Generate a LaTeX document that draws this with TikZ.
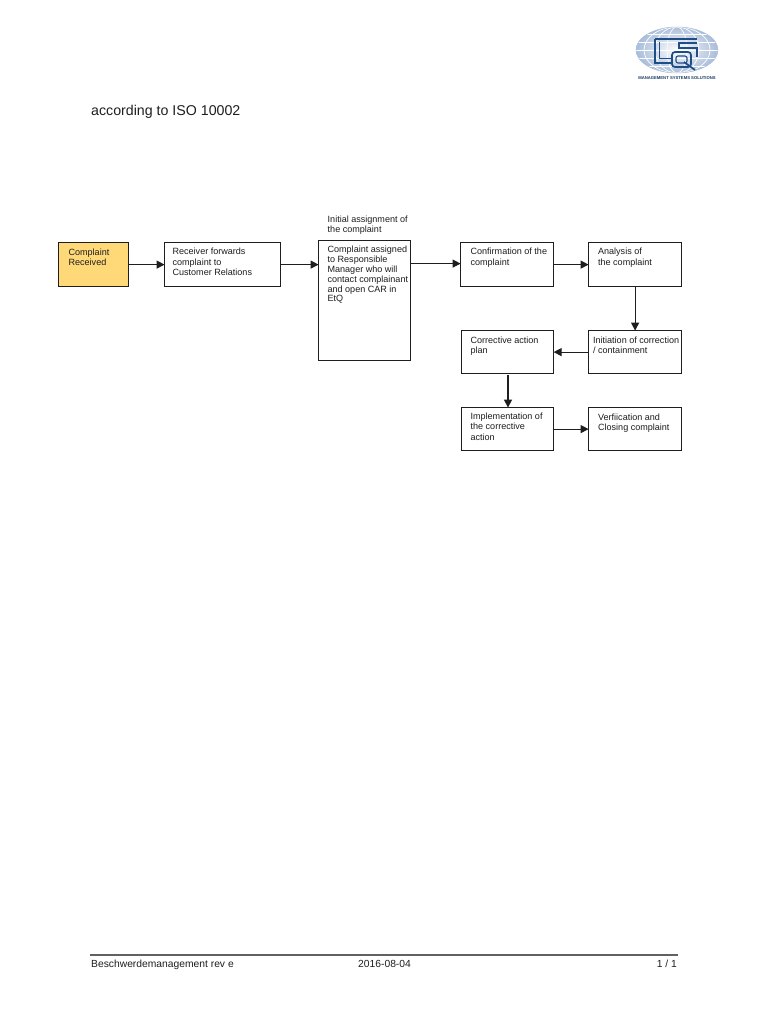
\documentclass[tikz,border=0pt]{standalone}
\usepackage{fontspec}
\setmainfont{Liberation Sans}
\usetikzlibrary{arrows.meta}
\definecolor{ink}{HTML}{1E1E1E}
\definecolor{navy}{HTML}{1F4E86}
\definecolor{globe}{HTML}{A9BDDA}
\definecolor{amber}{HTML}{FFD878}
\newcommand{\flowtext}[5]{\parbox[b][#2pt][t]{#1pt}{\fontsize{9.05}{10.3}\selectfont\leftskip=#3pt\relax\rightskip=0pt plus 1fil\parindent=0pt\rule{0pt}{#4pt}#5\par}}
\tikzset{
  x=1pt,y=-1pt,
  flowbox/.style={draw=ink,line width=0.9pt,fill=white,inner sep=0pt,outer sep=0pt,anchor=north west,align=left,text=ink},
  startbox/.style={flowbox,fill=amber},
  flow/.style={draw=ink,line width=1.2pt,-{Triangle[length=8pt,width=8pt]}},
  plain/.style={inner sep=0pt,anchor=base west,text=ink},
  logoline/.style={draw=navy,line width=1.7pt,line join=miter},
}
\begin{document}
\begin{tikzpicture}
\useasboundingbox (0,0) rectangle (768,1024);
% logo
\begin{scope}
  \clip (677,50) ellipse [x radius=41,y radius=23];
  \shade[inner color=white,outer color=globe] (677,50) ellipse [x radius=41,y radius=23];
  \foreach \r in {10,22,33}{\draw[white,line width=.7pt] (677,50) ellipse [x radius=\r,y radius=23];}
  \foreach \yy in {34,42,50,58,66}{\draw[white,line width=.7pt] (636,\yy) -- (718,\yy);}
\end{scope}
\draw[globe,line width=.5pt] (677,50) ellipse [x radius=41,y radius=23];
\draw[logoline] (655,39) -- (655,63) -- (671,63);
\draw[logoline] (659.5,42) -- (659.5,58.5) -- (671,58.5);
\draw[logoline] (655,39) -- (697,39);
\draw[logoline] (697,43) -- (679,43) -- (679,48) -- (697,48) -- (697,57);
\draw[logoline,rounded corners=3pt] (672,52) -- (691,52) -- (691,67) -- (672,67) -- cycle;
\draw[logoline,line width=1.1pt,rounded corners=2pt] (676,56) -- (687,56) -- (687,63) -- (676,63) -- cycle;
\draw[logoline] (684,62) -- (695,70);
\node[inner sep=0pt,text=navy!75!black] (logotext) at (677,78.3) {\fontsize{4.2}{5}\selectfont\bfseries MANAGEMENT SYSTEMS SOLUTIONS};
% title
\node[plain] (title) at (91,116) {\fontsize{14.2}{17}\selectfont according to ISO 10002};
\node[plain] (caption) at (327.5,222.7) {\fontsize{9.05}{10.3}\selectfont Initial assignment of};
\node[plain] (caption2) at (327.5,233) {\fontsize{9.05}{10.3}\selectfont the complaint};
% boxes
\node[startbox] (rec) at (58.6,242.6) {\flowtext{70}{44}{10}{12.5}{Complaint\\Received}};
\node[flowbox] (fwd) at (164.6,242.6) {\flowtext{116}{44}{8}{12.2}{Receiver forwards\\complaint to\\Customer Relations}};
\node[flowbox] (asg) at (318.6,240.6) {\flowtext{92}{120}{9}{12.2}{\baselineskip=9.8pt Complaint assigned\\to Responsible\\Manager who will\\contact complainant\\and open CAR in\\EtQ}};
\node[flowbox] (conf) at (460.6,242.6) {\flowtext{93}{44}{10}{12.3}{Confirmation of the\\complaint}};
\node[flowbox] (ana) at (588.6,242.6) {\flowtext{93}{44}{9.5}{12.3}{Analysis of\\the complaint}};
\node[flowbox] (ini) at (588.6,330.6) {\flowtext{93}{43}{4.5}{12.5}{Initiation of correction\\/ containment}};
\node[flowbox] (cor) at (461.6,330.6) {\flowtext{92}{43}{9}{12.5}{Corrective action\\plan}};
\node[flowbox] (imp) at (461.6,407.6) {\flowtext{92}{43}{9}{12}{Implementation of\\the corrective\\action}};
\node[flowbox] (ver) at (588.6,407.6) {\flowtext{93}{43}{9.5}{12.5}{Verfiication and\\Closing complaint}};
% connectors
\draw[flow] (rec.east) -- (fwd.west);
\draw[flow] (fwd.east) -- (fwd.east -| asg.west);
\coordinate (asgout) at ([yshift=1pt]asg.east |- conf.west);
\draw[flow,line width=.9pt] (asgout) -- (asgout -| conf.west);
\draw[flow] (conf.east) -- (ana.west);
\draw[flow] (ana.south) -- (ana.south |- ini.north);
\draw[flow] (ini.west) -- (cor.east);
\coordinate (cs) at (508,374.5);
\draw[flow] (cs) -- (cs |- imp.north);
\draw[flow] (imp.east) -- (ver.west);
% footer
\coordinate (fl) at (90,955);
\coordinate (fr) at (678,955);
\draw[draw=ink!70,line width=1.5pt] (fl) -- (fr);
\node[plain] (f1) at (91,967) {\fontsize{10.3}{12}\selectfont Beschwerdemanagement rev e};
\node[plain] (f2) at (358,967) {\fontsize{10.3}{12}\selectfont 2016-08-04};
\node[inner sep=0pt,anchor=base east,text=ink] (f3) at (677,967) {\fontsize{10.3}{12}\selectfont 1 / 1};
\end{tikzpicture}
\end{document}
